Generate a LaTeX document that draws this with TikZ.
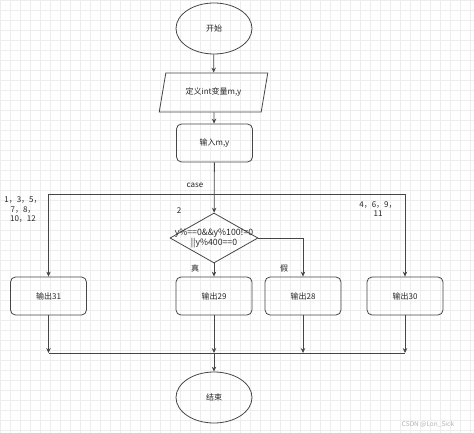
\documentclass[tikz,border=0pt]{standalone}
\usepackage{fontspec}
\setmainfont{Noto Sans CJK SC}
\usetikzlibrary{shapes.geometric,arrows.meta}
\definecolor{ln}{RGB}{70,70,70}
\begin{document}
\begin{tikzpicture}[x=1pt,y=-1pt,
  every node/.style={font=\fontsize{8}{9.5}\selectfont, text=black!85},
  line/.style={draw=ln, line width=0.8pt},
  arr/.style={line, -{Stealth[length=5pt,width=4.5pt]}},
  oval/.style={ellipse, line, minimum width=76pt, minimum height=51pt, inner sep=0pt},
  rbox/.style={rectangle, rounded corners=5pt, line, minimum width=76pt, minimum height=38pt, inner sep=1pt},
  lbl/.style={inner sep=0pt, align=center}]
\fill[white] (0,0) rectangle (474,433);
\useasboundingbox (0,0) rectangle (474,433);
\draw[black!7, line width=0.3pt, step=10pt] (0,0) grid (474,433);

\node[oval] (start) at (214,28.5) {开始};
\node[trapezium, trapezium left angle=66, trapezium right angle=114, trapezium stretches=true,
      line, minimum width=109pt, minimum height=39pt, inner sep=0pt] (def) at (213.5,92.5) {定义int变量m,y};
\node[rbox] (input) at (214.5,143) {输入m,y};
\node[diamond, line, minimum width=88pt, minimum height=50pt, inner sep=0pt] (dia) at (214,238) {};
\node[lbl, font=\fontsize{8.7}{10}\selectfont] (diatext) at (dia.center) {y\%==0\&\&y\%100!=0\\||y\%400==0};
\node[rbox] (b31) at (48.5,296) {输出31};
\node[rbox] (b29) at (214,296) {输出29};
\node[rbox] (b28) at (303,296) {输出28};
\node[rbox] (b30) at (405,296) {输出30};
\node[oval] (end) at (214,397.5) {结束};

\coordinate (caseC) at (214,194);
\coordinate (mL) at (48.5,353);
\coordinate (mR) at (405,353);
\coordinate (mC) at (214,353);

\draw[arr] (start) -- (def);
\draw[arr] (def) -- (input);
\draw[arr] (input) -- (dia);
\draw[arr] (caseC) -| (b31.north);
\draw[arr] (caseC) -| (b30.north);
\draw[arr] (dia) -- (b29);
\draw[arr] (dia.east) -| (b28.north);
\draw[arr] (b31) -- (b31 |- mL);
\draw[arr] (b29) -- (b29 |- mL);
\draw[arr] (b28) -- (b28 |- mL);
\draw[arr] (b30) -- (b30 |- mL);
\draw[line] (mL) -- (mR);
\draw[arr] (mC) -- (end);

\node[lbl] (tcase) at (195,185) {case};
\node[lbl] (t2) at (179,211) {2};
\node[lbl] (tzhen) at (195,268) {真};
\node[lbl] (tjia) at (284,268) {假};
\node[lbl] (tleft) at (23,210) {1，3，5，\\7，8，\\10，12};
\node[lbl] (tright) at (378,209) {4，6，9，\\11};
\node[lbl, text=black!30, font=\fontsize{6.5}{8}\selectfont] (wm) at (428,424) {CSDN @Lon\_Sick};
\end{tikzpicture}
\end{document}
